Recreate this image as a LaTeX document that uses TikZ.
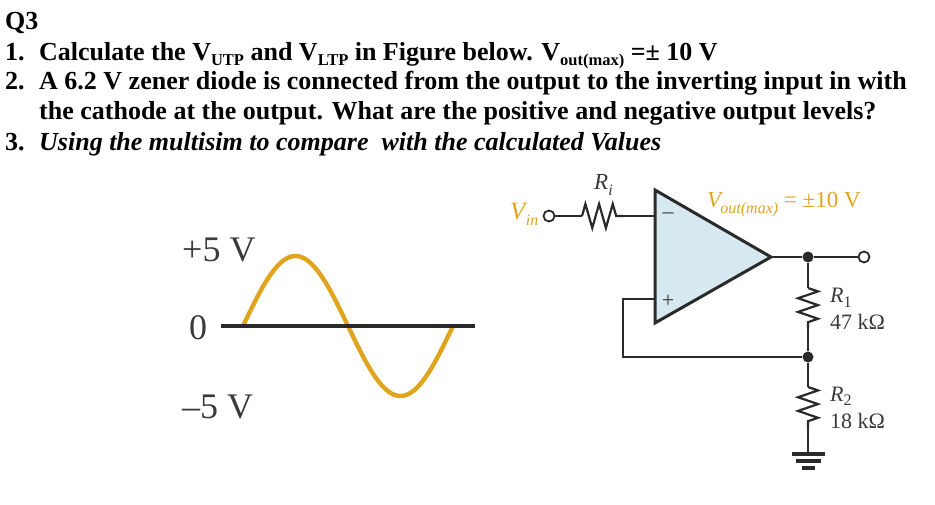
\documentclass[tikz,border=0pt]{standalone}
\usepackage{fontspec}
\setmainfont{Liberation Serif}
\usetikzlibrary{positioning, decorations.pathmorphing}
\definecolor{wirecol}{HTML}{2A2A2A}
\definecolor{labelcol}{HTML}{3A3A3A}
\definecolor{signalcol}{HTML}{E0A51E}
\definecolor{opampcol}{HTML}{D6E8F0}
\newcommand{\lowtxt}[1]{\raisebox{-0.16em}{\fontsize{16.5}{16.5}\selectfont #1}}
\newcommand{\labelsub}[1]{\raisebox{-0.22em}{\fontsize{16}{16}\selectfont #1}}
\tikzset{
    qline/.style={anchor=base west, inner sep=0pt, font=\fontsize{26}{26}\selectfont\bfseries},
    qnum/.style={qline},
    scalelabel/.style={anchor=base west, inner sep=0pt, text=labelcol, font=\fontsize{36}{36}\selectfont},
    partlabel/.style={anchor=base west, inner sep=0pt, text=labelcol, font=\fontsize{22}{22}\selectfont},
    signallabel/.style={anchor=base west, inner sep=0pt, text=signalcol, font=\fontsize{23}{23}\selectfont},
    wire/.style={draw=wirecol, line width=2.2pt},
    zigzagwire/.style={wire, line join=miter, decorate, decoration={zigzag, amplitude=10pt, segment length=13.67pt}},
    pin/.style={circle, draw=wirecol, fill=white, line width=1.8pt, inner sep=0pt, minimum size=11pt},
    junction/.style={circle, fill=wirecol, inner sep=0pt, minimum size=11pt}
}
\begin{document}
\begin{tikzpicture}[x=1pt, y=-1pt]
    \useasboundingbox (0,0) rectangle (935,505);

    % Question text
    \node[qline] (q0) at (5,30) {Q3};
    \node[qnum] (n1) at (5,61) {1.};
    \node[qline] (q1) at (39,61) {Calculate the V\lowtxt{UTP} and V\lowtxt{LTP} in Figure below. V\lowtxt{out(max)} =± 10 V};
    \node[qnum] (n2) at (5,90) {2.};
    \node[qline] (q2) at (39,90) {A 6.2 V zener diode is connected from the output to the inverting input in with};
    \node[qline] (q3) at (39,120) {the cathode at the output. What are the positive and negative output levels?};
    \node[qnum] (n3) at (5,151) {3.};
    \node[qline, font=\fontsize{26}{26}\selectfont\bfseries\itshape] (q4) at (39,151) {Using the multisim to compare\ \ with the calculated Values};

    % Input waveform
    \coordinate (axisl) at (221,326);
    \coordinate (axisr) at (475,326);
    \draw[signalcol, line width=4.4pt] plot[domain=0:360, samples=90] ({243+\x*0.5833},{326-70*sin(\x)});
    \draw[wirecol, line width=3.6pt] (axisl) -- (axisr);
    \node[scalelabel] (vtop) at (182,262) {+5 V};
    \node[scalelabel] (vzero) at (189,339) {0};
    \node[scalelabel] (vbot) at (182,418) {–5 V};

    % Op-amp
    \coordinate (tl) at (655,190);
    \coordinate (bl) at (655,323);
    \coordinate (apex) at (771,257);
    \filldraw[fill=opampcol, draw=wirecol, line width=3pt, line join=miter] (tl) -- (apex) -- (bl) -- cycle;
    \coordinate (minuspin) at (655,216);
    \coordinate (pluspin) at (655,299);
    \node[text=labelcol, inner sep=0pt, font=\fontsize{22}{22}\selectfont] (minus) at (668,216) {–};
    \node[text=labelcol, inner sep=0pt, font=\fontsize{22}{22}\selectfont] (plus) at (668,301) {+};

    % Input branch
    \node[pin] (vin) at (549,216) {};
    \coordinate (rileft) at (582,216);
    \coordinate (riright) at (623,216);
    \draw[wire] (vin) -- (rileft);
    \draw[zigzagwire, decoration={amplitude=12pt}] (rileft) -- (riright);
    \draw[wire] (riright) -- (minuspin);

    % Output and divider
    \node[junction] (outdot) at (808,257) {};
    \node[pin] (vout) at (864,257) {};
    \node[junction] (fbdot) at (808,357) {};
    \coordinate (r1top) at (808,288);
    \coordinate (r1bot) at (808,328);
    \coordinate (r2top) at (808,387);
    \coordinate (r2bot) at (808,428);
    \coordinate (gnd) at (808,454);
    \coordinate (fbcorner) at (623,299);
    \coordinate (fbturn) at (623,357);
    \draw[wire] (apex) -- (outdot) -- (vout);
    \draw[wire] (outdot) -- (r1top);
    \draw[zigzagwire] (r1top) -- (r1bot);
    \draw[wire] (r1bot) -- (fbdot) -- (r2top);
    \draw[zigzagwire] (r2top) -- (r2bot);
    \draw[wire] (r2bot) -- (gnd);
    \draw[wire] (pluspin) -- (fbcorner) -- (fbturn) -- (fbdot);

    % Ground
    \foreach \yoff/\half in {0/16.5, 7/12.5, 14/6.5}
        \draw[wirecol, line width=3.2pt] ([shift={(-\half,\yoff)}]gnd) -- ([shift={(\half,\yoff)}]gnd);

    % Labels
    \node[partlabel, font=\fontsize{23}{23}\selectfont\itshape] (rilabel) at (594,190) {R\labelsub{i}};
    \node[signallabel, font=\fontsize{25}{25}\selectfont] (vinlabel) at (510,220) {\textit{V}\kern-2pt\labelsub{\textit{in}}};
    \node[signallabel] (voutlabel) at (707,208) {\textit{V}\kern-3pt\labelsub{\textit{out(max)}} = ±10 V};
    \node[partlabel] (r1label) at (830,303) {\textit{R}\labelsub{1}};
    \node[partlabel] (r1val) at (830,330) {47 kΩ};
    \node[partlabel] (r2label) at (830,401) {\textit{R}\labelsub{2}};
    \node[partlabel] (r2val) at (830,428) {18 kΩ};
\end{tikzpicture}
\end{document}
